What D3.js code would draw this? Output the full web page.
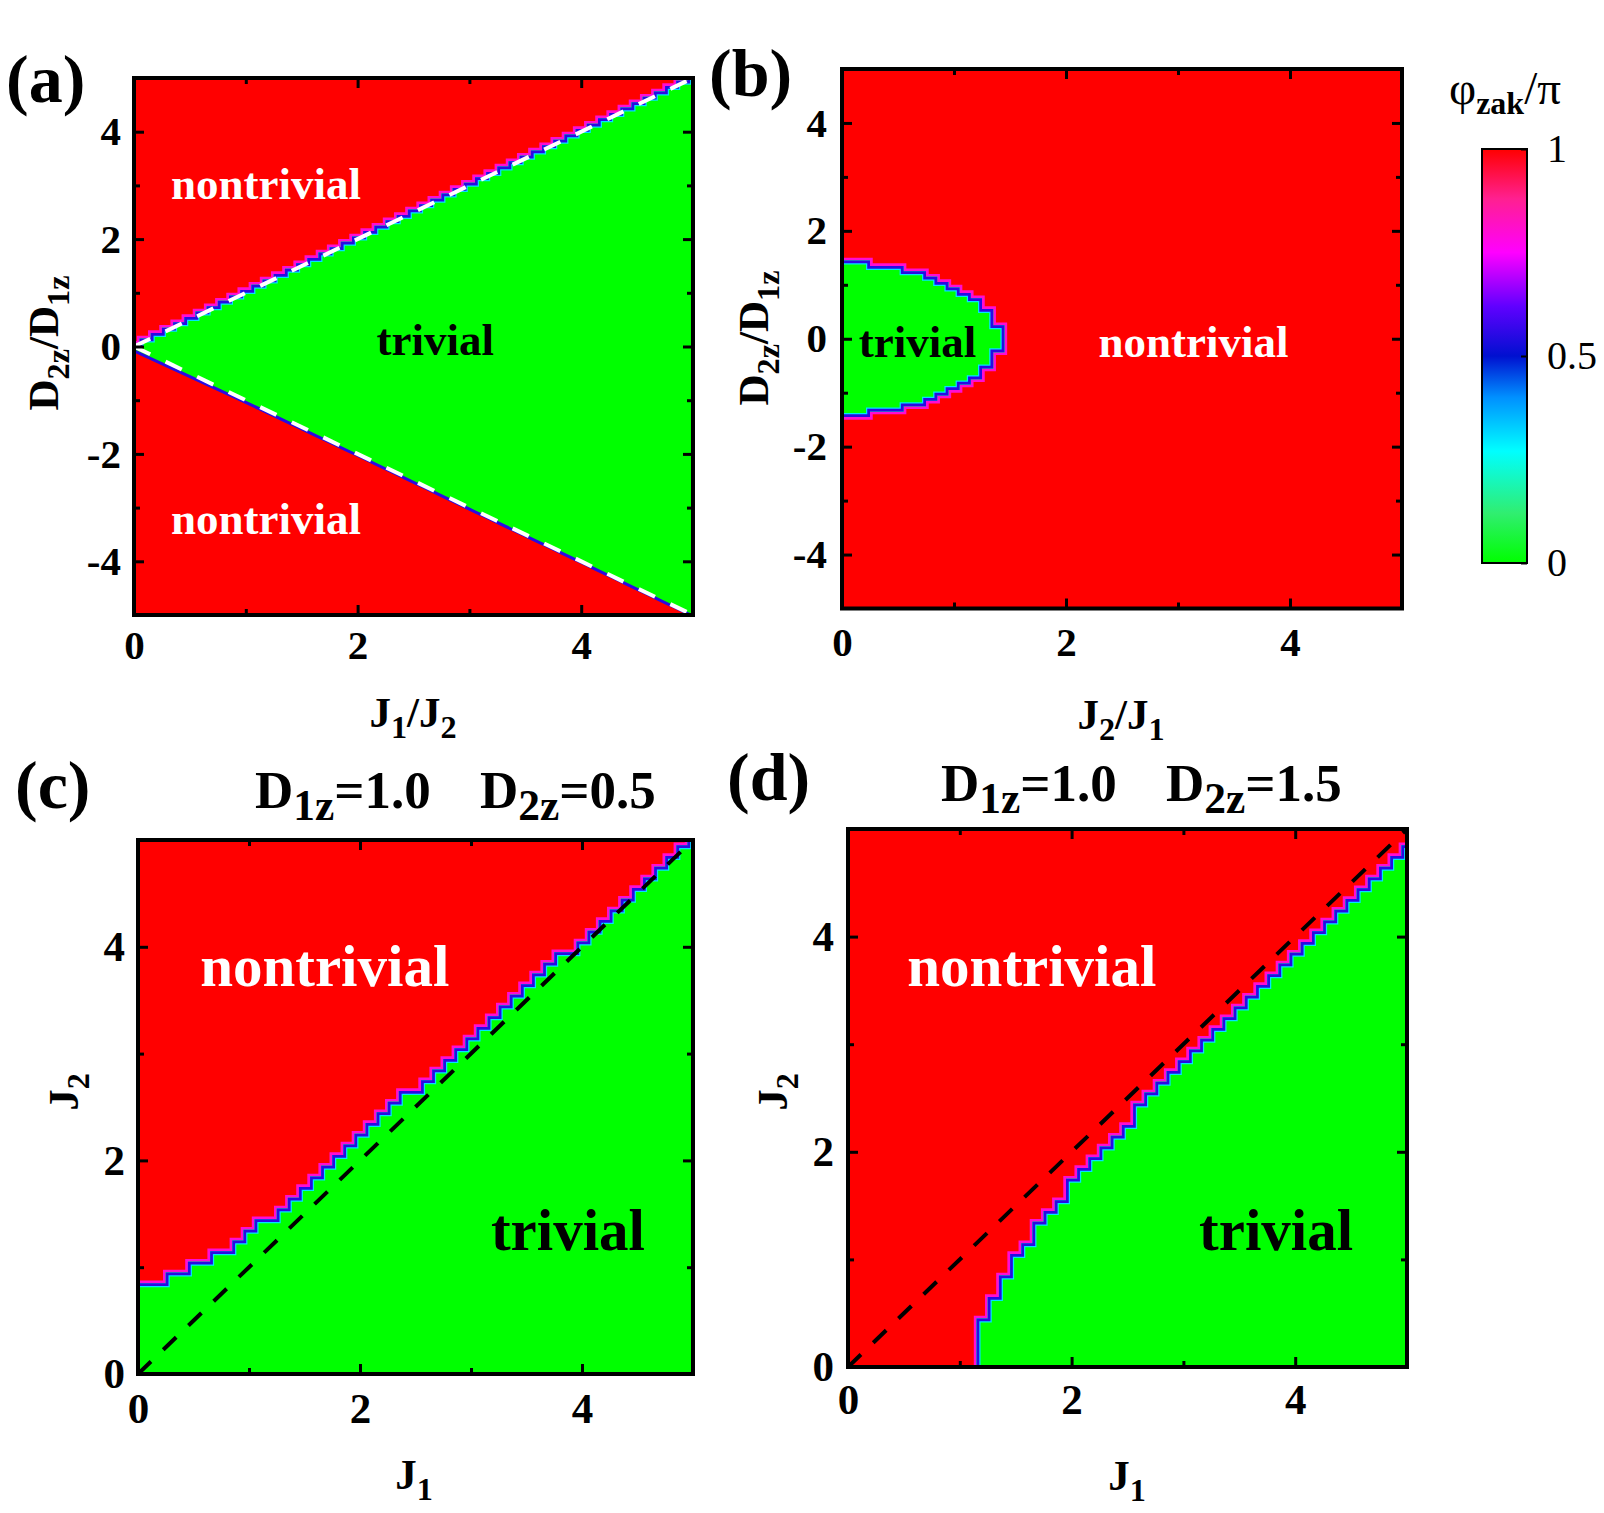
<!DOCTYPE html>
<html>
<head>
<meta charset="utf-8">
<script src="https://cdn.jsdelivr.net/npm/d3@7"></script>
<style>
body{margin:0;background:#fff}
text{font-family:"Liberation Serif","Times New Roman",serif;font-weight:bold}
</style>
</head>
<body>
<svg></svg>
<script>
// grid column centres of the computed maps (step 0.1)
var gridJ = [0,0.1,0.2,0.3,0.4,0.5,0.6,0.7,0.8,0.9,1,1.1,1.2,1.3,1.4,1.5,1.6,1.7,1.8,1.9,
    2,2.1,2.2,2.3,2.4,2.5,2.6,2.7,2.8,2.9,3,3.1,3.2,3.3,3.4,3.5,3.6,3.7,3.8,3.9,
    4,4.1,4.2,4.3,4.4,4.5,4.6,4.7,4.8,4.9,5]

// (a) top of the trivial wedge in every column, and its lower edge
var aUpper = [0.05,0.15,0.25,0.35,0.45,0.55,0.65,0.75,0.85,0.95,1.05,1.15,1.25,1.35,1.45,1.55,1.65,1.75,1.85,1.95,
    2.05,2.15,2.25,2.35,2.45,2.55,2.65,2.75,2.85,2.95,3.05,3.15,3.25,3.35,3.45,3.55,3.65,3.75,3.85,3.95,
    4.05,4.15,4.25,4.35,4.45,4.55,4.65,4.75,4.85,4.95,5.05]
var aLowerJ = [0, 1, 2, 3, 4, 5]
var aLowerD = [-0.08, -1.04, -2.03, -3.03, -4.02, -5.02]
var aGuideJ = [0, 5]
var aGuideUp = [0, 5]
var aGuideDown = [0, -5]

// (b) half height of the trivial pocket for columns 0 .. 1.4
var bHalf = [1.45,1.45,1.45,1.35,1.35,1.35,1.25,1.25,1.15,1.05,0.95,0.85,0.75,0.55,0.25]

// (c) J2 where the map turns nontrivial, per J1 column
var cTop = [0.85,0.85,0.85,0.95,0.95,1.05,1.05,1.15,1.15,1.25,
    1.35,1.45,1.45,1.55,1.65,1.75,1.85,1.95,2.05,2.15,
    2.25,2.35,2.45,2.55,2.65,2.65,2.75,2.85,2.95,3.05,
    3.15,3.25,3.35,3.45,3.55,3.65,3.75,3.85,3.95,3.95,
    4.05,4.15,4.25,4.35,4.45,4.55,4.65,4.75,4.85,4.95,5.05]

// (d) same, columns from J1 = 1.2 on (no trivial cells before)
var dTop = [0.45,0.65,0.85,1.05,1.15,1.35,1.45,1.55,
    1.75,1.85,1.95,2.05,2.15,2.25,2.45,2.55,2.65,2.75,
    2.85,2.95,3.05,3.15,3.25,3.35,3.45,3.55,3.65,3.75,
    3.85,3.95,4.05,4.15,4.25,4.35,4.45,4.55,4.65,4.75,4.85]
var guideJ = [0, 5]

var majorJ = [0, 2, 4], minorJ = [1, 3]
var majorD = [-4, -2, 0, 2, 4], minorD = [-3, -1, 1, 3]

var cbarTicks = [0, 0.5, 1]
var cbarStops = [0, 0.12, 0.27, 0.4, 0.5, 0.62, 0.75, 0.88, 1]
var cbarColors = ['#00ff00','#30ee70','#00ffff','#0090ff','#0010d0','#6000ff','#ff00ff','#ff2090','#ff0000']

var W = 1604, H = 1513
var svg = d3.select('svg').attr('width', W).attr('height', H)
var phase = d3.scaleLinear().domain(cbarStops).range(cbarColors)
var uid = 0

function frame(box, xd, yd){
    var x = d3.scaleLinear().domain(xd).range([box[0], box[1]])
    var y = d3.scaleLinear().domain(yd).range([box[3], box[2]])
    var id = 'clip' + (uid++)
    svg.append('clipPath').attr('id', id).append('rect')
        .attr('x', box[0]).attr('y', box[2])
        .attr('width', box[1] - box[0]).attr('height', box[3] - box[2])
    var g = svg.append('g').attr('clip-path', `url(#${id})`)
    g.append('rect')
        .attr('x', box[0]).attr('y', box[2])
        .attr('width', box[1] - box[0]).attr('height', box[3] - box[2])
        .attr('fill', phase(1))
    var line = d3.line().x(d => x(d[0])).y(d => y(d[1]))
    return {x, y, g, line, box}
}

function steps(xs, tops){
    var h = (xs[1] - xs[0]) / 2
    return xs.flatMap((v, i) => [[v - h, tops[i]], [v + h, tops[i]]])
}

// trivial area + the smeared edge (magenta on the red side, blue/cyan inside)
function region(p, edge, poly){
    var id = 'reg' + (uid++)
    var ed = p.line(edge), pd = p.line(poly) + 'Z'
    p.g.append('path').attr('d', ed).attr('fill', 'none')
        .attr('stroke', phase(0.8)).attr('stroke-width', 5.5)
    p.g.append('path').attr('d', pd).attr('fill', phase(0))
    svg.append('clipPath').attr('id', id).append('path').attr('d', pd)
    var inner = p.g.append('g').attr('clip-path', `url(#${id})`)
    inner.append('path').attr('d', ed).attr('fill', 'none')
        .attr('stroke', phase(0.3)).attr('stroke-width', 8)
    inner.append('path').attr('d', ed).attr('fill', 'none')
        .attr('stroke', phase(0.55)).attr('stroke-width', 5.5)
}

function guide(p, xs, ys, color){
    p.g.append('path').attr('d', p.line(xs.map((v, i) => [v, ys[i]])))
        .attr('fill', 'none').attr('stroke', color).attr('stroke-width', 4)
        .attr('stroke-dasharray', '18,17')
}

function axes(p, xMaj, xMin, yMaj, yMin, fs, padX, padY){
    var b = p.box
    var set = [
        [d3.axisBottom(p.x), `translate(0,${b[3]})`, xMaj, xMin, padX],
        [d3.axisTop(p.x), `translate(0,${b[2]})`, xMaj, xMin, -1],
        [d3.axisLeft(p.y), `translate(${b[0]},0)`, yMaj, yMin, padY],
        [d3.axisRight(p.y), `translate(${b[1]},0)`, yMaj, yMin, -1]
    ]
    set.forEach(([ax, tr, maj, min, pad]) => {
        var g1 = svg.append('g').attr('transform', tr)
            .call(ax.tickValues(maj).tickSize(-10).tickPadding(Math.max(pad, 0))
                .tickFormat(pad < 0 ? '' : d => String(d)))
        var g2 = svg.append('g').attr('transform', tr)
            .call(ax.tickValues(min).tickSize(-6).tickFormat(''))
        ;[g1, g2].forEach(g => {
            g.select('.domain').remove()
            g.selectAll('line').attr('stroke-width', 3)
            g.attr('font-size', fs).attr('font-family', null)
        })
    })
    svg.append('rect').attr('x', b[0]).attr('y', b[2])
        .attr('width', b[1] - b[0]).attr('height', b[3] - b[2])
        .attr('fill', 'none').attr('stroke', '#000').attr('stroke-width', 4)
}

// text with subscripts: parts = [[str, isSub], ...]
function rich(t, parts, fs, ratio, drop){
    var shift = 0
    parts.forEach(([s, sub]) => {
        var want = sub ? fs * drop : 0
        t.append('tspan').attr('dy', want - shift)
            .attr('font-size', sub ? fs * ratio : fs).text(s)
        shift = want
    })
    return t
}

function note(p, X, Y, txt, fs, color){
    p.g.append('text').attr('x', p.x(X)).attr('y', p.y(Y))
        .attr('font-size', fs).attr('fill', color).text(txt)
}

// ---------- (a)
var pa = frame([134, 693, 78, 615], [0, 5], [-5, 5])
var aEdge = steps(gridJ, aUpper)
var aLow = aLowerJ.map((v, i) => [v, aLowerD[i]])
var aPoly = aEdge.concat([[6, aUpper[aUpper.length - 1]], [6, -6]], aLow.slice().reverse())
region(pa, aEdge, aPoly)
pa.g.append('path').attr('d', pa.line(aLow)).attr('fill', 'none')
    .attr('stroke', phase(0.55)).attr('stroke-width', 3)
guide(pa, aGuideJ, aGuideUp, '#fff')
guide(pa, aGuideJ, aGuideDown, '#fff')
note(pa, 0.33, 2.75, 'nontrivial', 45, '#fff')
note(pa, 2.17, -0.16, 'trivial', 45, '#000')
note(pa, 0.33, -3.49, 'nontrivial', 45, '#fff')
axes(pa, majorJ, minorJ, majorD, minorD, 41, 15, 13)

// ---------- (b)
var pb = frame([842, 1402, 69, 608.5], [0, 5], [-5, 5])
var bCols = gridJ.slice(0, bHalf.length)
var bEdge = [[-1, bHalf[0]]].concat(
    steps(bCols, bHalf),
    steps(bCols, bHalf.map(v => -v)).reverse(),
    [[-1, -bHalf[0]]])
region(pb, bEdge, bEdge)
note(pb, 0.15, -0.34, 'trivial', 45, '#000')
note(pb, 2.29, -0.34, 'nontrivial', 45, '#fff')
axes(pb, majorJ, minorJ, majorD, minorD, 41, 18, 15)

// ---------- (c)
var pc = frame([138, 693, 840, 1374], [0, 5], [0, 5])
var cEdge = steps(gridJ, cTop)
var cPoly = cEdge.concat([[6, 6], [6, -1], [-1, -1], [-1, cTop[0]]])
region(pc, cEdge, cPoly)
guide(pc, guideJ, guideJ, '#000')
note(pc, 0.56, 3.63, 'nontrivial', 59, '#fff')
note(pc, 3.18, 1.16, 'trivial', 59, '#000')
axes(pc, majorJ, minorJ, majorJ, minorJ, 43, 18, 13)

// ---------- (d)
var pd = frame([848, 1407, 829, 1367], [0, 5], [0, 5])
var dCols = gridJ.slice(gridJ.length - dTop.length)
var dSteps = steps(dCols, dTop)
var dEdge = [[dSteps[0][0], -1]].concat(dSteps)
var dPoly = dEdge.concat([[6, dTop[dTop.length - 1]], [6, -1]])
region(pd, dEdge, dPoly)
guide(pd, guideJ, guideJ, '#000')
note(pd, 0.53, 3.54, 'nontrivial', 59, '#fff')
note(pd, 3.14, 1.09, 'trivial', 59, '#000')
axes(pd, majorJ, minorJ, majorJ, minorJ, 43, 16, 14)

// ---------- titles and labels
var labels = [['(a)', 6, 102], ['(b)', 709, 96], ['(c)', 15, 808], ['(d)', 727, 800]]
labels.forEach(([s, x, y]) => svg.append('text').attr('x', x).attr('y', y).attr('font-size', 68).text(s))

var heads = [[255, 808, '1', '1.0'], [480, 808, '2', '0.5'], [941, 801, '1', '1.0'], [1166, 801, '2', '1.5']]
heads.forEach(([x, y, k, v]) => {
    rich(svg.append('text').attr('x', x).attr('y', y).attr('font-size', 53),
        [['D', 0], [k + 'z', 1], ['=' + v, 0]], 53, 0.82, 0.22)
})

function xTitle(x, y, parts){
    rich(svg.append('text').attr('x', x).attr('y', y).attr('text-anchor', 'middle').attr('font-size', 43),
        parts, 43, 0.75, 0.25)
}
function yTitle(x, y, parts){
    rich(svg.append('text').attr('transform', `translate(${x},${y}) rotate(-90)`)
        .attr('text-anchor', 'middle').attr('font-size', 43), parts, 43, 0.75, 0.25)
}
xTitle(413, 727, [['J', 0], ['1', 1], ['/', 0], ['J', 0], ['2', 1]])
xTitle(1121, 729, [['J', 0], ['2', 1], ['/', 0], ['J', 0], ['1', 1]])
xTitle(414, 1489, [['J', 0], ['1', 1]])
xTitle(1127, 1490, [['J', 0], ['1', 1]])
yTitle(58, 343, [['D', 0], ['2z', 1], ['/', 0], ['D', 0], ['1z', 1]])
yTitle(768, 338, [['D', 0], ['2z', 1], ['/', 0], ['D', 0], ['1z', 1]])
yTitle(78, 1092, [['J', 0], ['2', 1]])
yTitle(787, 1092, [['J', 0], ['2', 1]])

// ---------- colour bar
var cb = {x: 1482, w: 45, top: 149, bottom: 563}
var grad = svg.append('defs').append('linearGradient').attr('id', 'zak')
    .attr('x1', 0).attr('x2', 0).attr('y1', 1).attr('y2', 0)
grad.selectAll('stop').data(cbarStops).join('stop')
    .attr('offset', d => d).attr('stop-color', d => phase(d))
svg.append('rect').attr('x', cb.x).attr('y', cb.top).attr('width', cb.w)
    .attr('height', cb.bottom - cb.top).attr('fill', 'url(#zak)')
    .attr('stroke', '#000').attr('stroke-width', 2)
var cy = d3.scaleLinear().domain([0, 1]).range([cb.bottom, cb.top])
svg.append('g').attr('transform', `translate(${cb.x + cb.w},0)`)
    .call(d3.axisRight(cy).tickValues(cbarTicks).tickSize(-6).tickPadding(20).tickFormat(d => String(d)))
    .call(g => g.select('.domain').remove())
    .call(g => g.selectAll('line').attr('stroke-width', 2))
    .attr('font-size', 40).attr('font-family', null)
    .selectAll('text').style('font-weight', 'normal')
var ct = svg.append('text').attr('x', 1449).attr('y', 104).attr('font-size', 47)
ct.append('tspan').style('font-weight', 'normal').text('φ')
ct.append('tspan').attr('dy', 10).attr('font-size', 32).text('zak')
ct.append('tspan').attr('dy', -10).style('font-weight', 'normal').text('/π')
</script>
</body>
</html>
